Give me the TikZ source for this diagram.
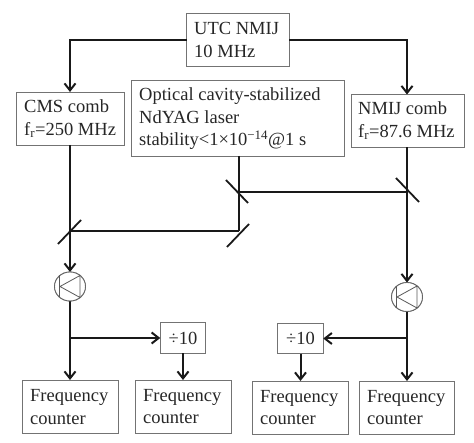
\documentclass[tikz,border=0pt]{standalone}
\usepackage{fontspec}
\setmainfont{Liberation Serif}
\usetikzlibrary{arrows.meta,shapes.geometric}
\tikzset{
 x=1pt,y=-1pt,
 box/.style={draw=black!55,line width=0.9pt,inner sep=0pt,outer sep=0pt},
 label/.style={inner sep=0pt,align=left,anchor=west,font=\fontsize{18.5}{22.5}\selectfont,text=black!85},
 beam/.style={line width=2pt,black!90},
 arr/.style={beam,-{Straight Barb[length=7pt,width=11pt,line width=2pt]}},
 mirror/.style={line width=1.8pt,black!90},
 det/.style={draw=black!60,line width=0.9pt,ellipse,minimum width=31pt,minimum height=29pt,inner sep=0pt,outer sep=0pt},
 diode/.style={line width=0.8pt,black!65}
}
\begin{document}
\begin{tikzpicture}
\useasboundingbox (0,0) rectangle (474,443);
\node[box,minimum width=102.5pt,minimum height=52.5pt,anchor=north west] (utc) at (186.5,13.5) {};
\node[label] (utct) at (194,40) {UTC NMIJ\\10 MHz};
\node[box,minimum width=108.5pt,minimum height=53pt,anchor=north west] (cms) at (16,92) {};
\node[label] (cmst) at (24,119) {CMS comb\\f\textsubscript{r}=250 MHz};
\node[box,minimum width=213pt,minimum height=76pt,anchor=north west] (laser) at (131,80) {};
\node[label] (lasert) at (139,119) {Optical cavity-stabilized\\NdYAG laser\\stability<1×10\textsuperscript{−14}@1 s};
\node[box,minimum width=113pt,minimum height=53pt,anchor=north west] (nmij) at (351,94.5) {};
\node[label] (nmijt) at (358,121) {NMIJ comb\\f\textsubscript{r}=87.6 MHz};
\node[box,minimum width=45.5pt,minimum height=30.5pt,font=\fontsize{18.5}{22.5}\selectfont,text=black!85] (d1) at (183,338) {÷10};
\node[box,minimum width=45.5pt,minimum height=30.5pt,font=\fontsize{18.5}{22.5}\selectfont,text=black!85] (d2) at (300.5,338.5) {÷10};
\node[box,minimum width=96pt,minimum height=53.5pt,anchor=north west] (c1) at (22,380) {};
\node[label] (c1t) at (30,407) {Frequency\\counter};
\node[box,minimum width=95.5pt,minimum height=53pt,anchor=north west] (c2) at (135.5,380) {};
\node[label] (c2t) at (143,406.5) {Frequency\\counter};
\node[box,minimum width=96pt,minimum height=53pt,anchor=north west] (c3) at (252,381) {};
\node[label] (c3t) at (260,407.5) {Frequency\\counter};
\node[box,minimum width=95.5pt,minimum height=53pt,anchor=north west] (c4) at (359,381) {};
\node[label] (c4t) at (367,407.5) {Frequency\\counter};
\node[det] (pd1) at (70,286.5) {};
\node[det] (pd2) at (407,297) {};
\coordinate (m1) at (239,192);
\coordinate (m2) at (407,192);
\coordinate (m3) at (70,231);
\coordinate (m4) at (239,231);
\coordinate (b1) at (70,338);
\coordinate (b2) at (407,338.5);
\draw[arr] (utc.west |- 0,40.5) -| (cms.north -| 70,0);
\draw[arr] (utc.east |- 0,40.5) -| (nmij.north -| 407,0);
\draw[beam] (laser.south -| m1) -- (m4);
\draw[beam] (m1) -- (m2);
\draw[beam] (m3) -- (m4);
\draw[arr] (cms.south -| m3) -- (pd1);
\draw[arr] (nmij.south -| m2) -- (pd2);
\draw[arr] (pd1) -- (c1.north -| pd1);
\draw[arr] (pd2) -- (c4.north -| pd2);
\draw[arr] (b1) -- (d1);
\draw[arr] (b2) -- (d2);
\draw[arr] (d1) -- (c2.north -| d1);
\draw[arr] (d2) -- (c3.north -| d2);
\draw[mirror] (226,180) -- (248,203);
\draw[mirror] (396,178) -- (419,202);
\draw[mirror] (58,244) -- (81,220);
\draw[mirror] (227,247) -- (249,224);
\node[det,fill=white] at (pd1) {};
\node[det,fill=white] at (pd2) {};
\draw[diode] (59,275.5) -- (59,297.5);
\draw[diode] (60,286.5) -- (80,275.5) -- (80,297.5) -- cycle;
\draw[diode] (396,286) -- (396,308);
\draw[diode] (397,297) -- (417,286) -- (417,308) -- cycle;
\end{tikzpicture}
\end{document}
